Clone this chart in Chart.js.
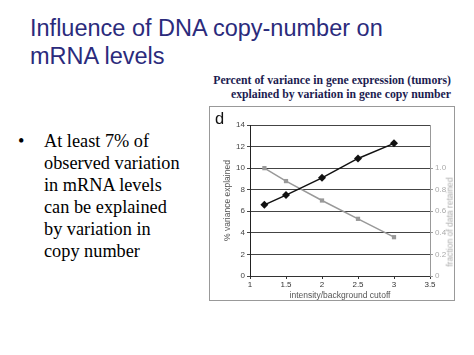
<!DOCTYPE html>
<html>
<head>
<meta charset="utf-8">
<script src="https://cdn.jsdelivr.net/npm/chart.js@4/dist/chart.umd.min.js"></script>
<style>
  html, body { margin: 0; padding: 0; background: #fff; }
  body { width: 474px; height: 355px; position: relative; overflow: hidden; }
  .title { position: absolute; left: 30px; top: 14px; font-family: "Liberation Sans", Arial, sans-serif;
           font-size: 23.5px; line-height: 28.3px; color: #2b2b7c; white-space: nowrap; }
  .sub { position: absolute; right: 23px; top: 74px; font-family: "Liberation Serif", "Times New Roman", serif;
         font-weight: bold; font-size: 11.75px; line-height: 14px; color: #1c1c50; text-align: right; white-space: nowrap; }
  .bullet { position: absolute; left: 18px; top: 130px; font-family: "Liberation Serif", "Times New Roman", serif;
            font-size: 18.3px; line-height: 22px; color: #000; }
  .bullet .dot { position: absolute; left: 0; top: 0; }
  .bullet .txt { position: absolute; left: 26px; top: 0; white-space: nowrap; }
  .frame { position: absolute; left: 209px; top: 106px; width: 246px; height: 195px; box-sizing: border-box;
           border: 1px solid #999; }
  #c { position: absolute; left: 1px; top: 1px; }
  .dlabel { position: absolute; left: 5px; top: 2px; font-family: "Liberation Sans", Arial, sans-serif; font-size: 16.5px; color: #111; }
  .rtitle { position: absolute; font-family: "Liberation Sans", Arial, sans-serif; font-size: 8.5px; color: #aaa;
            white-space: nowrap; transform-origin: center center; }
</style>
</head>
<body>
<div class="title">Influence of DNA copy-number on<br>mRNA levels</div>
<div class="sub">Percent of variance in gene expression (tumors)<br>explained by variation in gene copy number</div>
<div class="bullet"><span class="dot">•</span><span class="txt">At least 7% of<br>observed variation<br>in mRNA levels<br>can be explained<br>by variation in<br>copy number</span></div>
<div class="frame">
  <canvas id="c" width="244" height="193"></canvas>
  <div class="dlabel">d</div>
  <div class="rtitle" id="rt">fraction of data retained</div>
</div>
<script>
// Data
const cutoffs = [1.2, 1.5, 2, 2.5, 3];
const varianceExplained = [6.6, 7.5, 9.1, 10.9, 12.3];
const fractionRetained = [1.0, 0.88, 0.70, 0.53, 0.36];
const xTickLabels = ["1", "1.5", "2", "2.5", "3", "3.5"];
const leftTickLabels = ["0", "2", "4", "6", "8", "10", "12", "14"];
const rightTickLabels = ["0", "0.2", "0.4", "0.6", "0.8", "1.0"];

const font = { family: "'Liberation Sans', Arial, sans-serif", size: 8 };

new Chart(document.getElementById('c'), {
  type: 'line',
  data: {
    datasets: [
      {
        label: '% variance explained',
        data: cutoffs.map((x, i) => ({ x: x, y: varianceExplained[i] })),
        borderColor: '#111', backgroundColor: '#111', borderWidth: 1.5,
        pointStyle: 'rectRot', pointRadius: 4, pointBorderWidth: 0,
        yAxisID: 'y'
      },
      {
        label: 'fraction of data retained',
        data: cutoffs.map((x, i) => ({ x: x, y: fractionRetained[i] })),
        borderColor: '#999', backgroundColor: '#999', borderWidth: 1.5,
        pointStyle: 'rect', pointRadius: 3, pointBorderWidth: 0,
        yAxisID: 'y2'
      }
    ]
  },
  options: {
    responsive: false, animation: false, devicePixelRatio: 1,
    layout: { padding: { top: 17, left: 0, right: 0, bottom: 0 } },
    plugins: { legend: { display: false }, tooltip: { enabled: false } },
    scales: {
      x: {
        type: 'linear', min: 1, max: 3.5,
        afterFit: s => { s.height = 25; },
        afterBuildTicks: s => { s.ticks = xTickLabels.map(v => ({ value: parseFloat(v) })); },
        ticks: { font: font, color: '#333', padding: 1, maxRotation: 0, autoSkip: false,
                 callback: (v) => xTickLabels.find(t => parseFloat(t) === v) },
        grid: { drawOnChartArea: false, tickLength: 3, color: '#333' },
        border: { color: '#333' },
        title: { display: true, text: 'intensity/background cutoff', color: '#555',
                 font: { family: font.family, size: 8.5 }, padding: { top: 0, bottom: 0 } }
      },
      y: {
        position: 'left', min: 0, max: 14,
        afterFit: s => { s.width = 39; },
        afterBuildTicks: s => { s.ticks = leftTickLabels.map(v => ({ value: parseFloat(v) })); },
        ticks: { font: font, color: '#444', padding: 2, autoSkip: false,
                 callback: (v) => leftTickLabels.find(t => parseFloat(t) === v) },
        grid: { color: '#444', lineWidth: 1, tickLength: 3 },
        border: { color: '#222' },
        title: { display: true, text: '% variance explained', color: '#555',
                 font: { family: font.family, size: 8.5 }, padding: { top: 12, bottom: 0 } }
      },
      y2: {
        position: 'right', min: 0, max: 1.4,
        afterFit: s => { s.width = 25; },
        afterBuildTicks: s => { s.ticks = rightTickLabels.map(v => ({ value: parseFloat(v) })); },
        ticks: { font: font, color: '#aaa', padding: 2, autoSkip: false,
                 callback: (v) => rightTickLabels.find(t => parseFloat(t) === v) },
        grid: { drawOnChartArea: false, drawTicks: true, tickLength: 3, color: '#999' },
        border: { color: '#999' }
      }
    }
  }
});

// right axis title, rotated to read bottom-to-top
const rt = document.getElementById('rt');
const w = rt.offsetWidth, h = rt.offsetHeight;
rt.style.left = (239 - w / 2) + 'px';
rt.style.top = (115 - h / 2) + 'px';
rt.style.transform = 'rotate(-90deg)';
</script>
</body>
</html>
